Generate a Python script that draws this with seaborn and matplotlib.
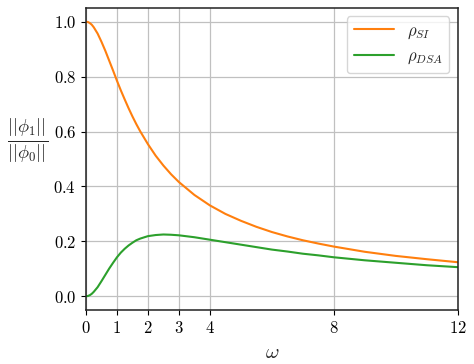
import matplotlib
matplotlib.use("Agg")
import matplotlib.pyplot as plt
import pandas as pd
import seaborn as sns

# values
omega = [0.0, 0.0625, 0.125, 0.1875, 0.25, 0.375, 0.5, 0.625, 0.75, 0.875, 1.0,
         1.125, 1.25, 1.375, 1.5, 1.625, 1.75, 2.0, 2.25, 2.5, 2.75,
         3.0, 3.5, 4.0, 4.5, 5.0, 5.5, 6.0, 6.5, 7.0, 7.5, 8.0, 9.0, 10.0, 11.0, 12.0]
rho_si = [1.000, 0.999, 0.995, 0.989, 0.980, 0.957, 0.927, 0.894, 0.858, 0.822, 0.785,
          0.750, 0.717, 0.685, 0.655, 0.627, 0.601, 0.554, 0.512, 0.476, 0.444,
          0.416, 0.369, 0.331, 0.300, 0.275, 0.253, 0.234, 0.218, 0.204, 0.192,
          0.181, 0.162, 0.147, 0.135, 0.124]
rho_dsa = [0.000, 0.001, 0.004, 0.009, 0.016, 0.033, 0.055, 0.078, 0.101, 0.122, 0.142,
           0.159, 0.173, 0.185, 0.195, 0.204, 0.210, 0.219, 0.223, 0.225, 0.224,
           0.222, 0.215, 0.206, 0.197, 0.188, 0.179, 0.170, 0.163, 0.155, 0.149,
           0.142, 0.131, 0.122, 0.113, 0.106]
xticks = [0, 1, 2, 3, 4, 8, 12]
yticks = [0.0, 0.2, 0.4, 0.6, 0.8, 1.0]

sns.set_style("ticks", {"axes.grid": True, "grid.color": "#c0c0c0",
                        "axes.edgecolor": "black"})
plt.rcParams['font.family'] = 'serif'
plt.rcParams['font.serif'] = ['cmr10']
plt.rcParams['mathtext.fontset'] = 'cm'
plt.rcParams['axes.formatter.use_mathtext'] = True

df = pd.DataFrame({'omega': omega, 'si': rho_si, 'dsa': rho_dsa})

fig = plt.figure(figsize=(4.74, 3.64), dpi=100)
ax = fig.add_axes([0.1814, 0.1484, 0.7842, 0.8296])

sns.lineplot(data=df, x='omega', y='si', color='#ff7f0e', lw=1.5,
             label=r'$\rho_{SI}$', ax=ax)
sns.lineplot(data=df, x='omega', y='dsa', color='#2ca02c', lw=1.5,
             label=r'$\rho_{DSA}$', ax=ax)

ax.set_xlim(0, 12)
ax.set_ylim(-0.05, 1.05)
ax.set_xticks(xticks)
ax.set_yticks(yticks)
ax.tick_params(labelsize=12, length=3.5, width=0.8, colors='black')
ax.grid(True, color='#c0c0c0', lw=0.9)
for s in ax.spines.values():
    s.set_color('#222222')
    s.set_linewidth(1.1)

ax.set_xlabel(r'$\omega$', fontsize=15, labelpad=6)
ax.set_ylabel(r'$\frac{||\phi_1||}{||\phi_0||}$', fontsize=19, rotation=0,
              ha='center', va='center')
ax.yaxis.set_label_coords(-0.157, 0.56)

ax.legend(loc='upper right', fontsize=12, framealpha=0.8, edgecolor='#cccccc',
          handlelength=2.4)

fig.savefig('out.png', dpi=100)
plt.close(fig)
